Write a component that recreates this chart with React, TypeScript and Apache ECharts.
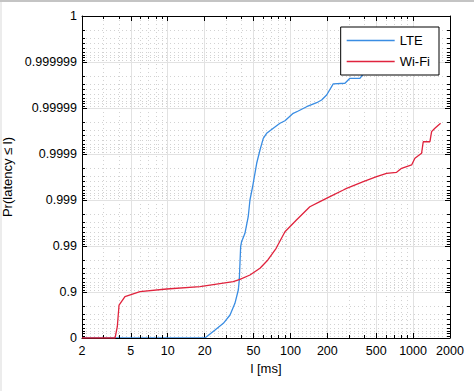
import React, { useEffect, useRef } from "react";
import * as echarts from "echarts";

// Tick labels
const xTicks = [2, 5, 10, 20, 50, 100, 200, 500, 1000, 2000];
const xMinorTicks = [3, 4, 6, 7, 8, 9, 30, 40, 60, 70, 80, 90, 300, 400, 600, 700, 800, 900];
const yTickLabels = ["0", "0.9", "0.99", "0.999", "0.9999", "0.99999", "0.999999", "1"];
const yMinorFractions = [0.1, 0.2, 0.3, 0.4, 0.5, 0.6, 0.7, 0.8];

// LTE: latency (ms) and Pr(latency <= l)
const lteLatency = [2, 20.1, 24.3, 28.4, 32.2, 35.3, 37.6, 38.3, 38.8, 39.3, 40.0, 42.6, 45.3, 46.8, 49.2, 53.1, 56.5, 60.1, 64.0, 72.5, 82.2, 90.3, 105.4, 115.9, 135.6, 163.7, 179.7, 197.4, 223.4, 278.3, 305.6, 368.8, 405, 459, 488.6, 557, 647];
const lteCdf = [0, 0, 0.33, 0.52, 0.684, 0.824, 0.9094, 0.9452, 0.97623, 0.98965, 0.99193, 0.9947, 0.997693, 0.999, 0.999486, 0.999841, 0.9999182, 0.9999544, 0.9999645, 0.9999724, 0.9999785, 0.9999811, 0.99998697, 0.99998839, 0.99999062, 0.99999233, 0.9999933, 0.99999479, 0.999997, 0.9999971, 0.99999774, 0.99999774, 0.99999837, 0.99999845, 0.99999874, 0.99999918, 0.99999957];

// Wi-Fi
const wifiLatency = [2, 3.72, 3.88, 4.01, 4.48, 5.94, 9.8, 18.3, 34.2, 38.8, 46.8, 56.5, 65.5, 76.5, 90.3, 112, 144, 174, 210, 270, 287, 393, 504, 608, 734, 806, 973, 1035, 1173, 1210, 1372, 1416, 1506, 1676];
const wifiCdf = [0, 0, 0.4325, 0.808, 0.8735, 0.9016, 0.9139, 0.9233, 0.9403, 0.947, 0.9573, 0.9695, 0.9799, 0.98878, 0.99511, 0.99728, 0.9986, 0.998911, 0.999153, 0.999393, 0.999443, 0.9996, 0.999689, 0.999737, 0.99975, 0.999795, 0.999827, 0.999876, 0.9999034, 0.9999459, 0.9999459, 0.9999673, 0.9999724, 0.9999785];

const lx = (v: number) => Math.log10(v);
const ty = (p: number) => (p >= 1 ? 7 : -Math.log10(1 - p));

const FONT = "'Liberation Sans', Arial, Helvetica, sans-serif";

export default function App() {
  const ref = useRef<HTMLDivElement>(null);
  useEffect(() => {
    if (!ref.current) return;
    const chart = echarts.init(ref.current, null, { renderer: "svg" });
    const xMin = lx(xTicks[0]);
    const xMax = lx(xTicks[xTicks.length - 1]);
    const xMajor = xTicks.map(lx);
    const xMinor = xMinorTicks.map(lx);
    const yMajor = yTickLabels.map((_, i) => i);
    const yMinor: number[] = [];
    for (let k = 0; k < 7; k++) {
      yMinorFractions.forEach((f) => yMinor.push(k - Math.log10(1 - f)));
    }
    const majorSplit = () => ({ show: true, lineStyle: { color: "#e2e2e2", width: 1, type: "solid" } });
    const minorSplit = () => ({ show: true, lineStyle: { color: "#d2d2d2", width: 1, type: [1, 3] } });
    const tick = (len: number, vals: number[], show = true) => ({
      show,
      inside: true,
      length: len,
      customValues: vals,
      lineStyle: { color: "#000", width: 1 },
    });
    const baseX = () => ({ type: "value", min: xMin, max: xMax });
    const baseY = () => ({ type: "value", min: 0, max: 7 });
    const frame = (base: any, position: string, ticks: any) => ({
      ...base,
      position,
      axisLine: { show: true, onZero: false, lineStyle: { color: "#000", width: 1 } },
      axisTick: ticks,
      axisLabel: { show: false },
      splitLine: { show: false },
      z: 8,
    });
    const plain = (base: any, position: string, ticks: any, split: any, z: number) => ({
      ...base,
      position,
      axisLine: { show: false, onZero: false },
      axisTick: ticks,
      axisLabel: { show: false },
      splitLine: split,
      z,
    });

    chart.setOption({
      animation: false,
      backgroundColor: "transparent",
      textStyle: { fontFamily: FONT },
      grid: { left: 82, right: 24, top: 16, bottom: 53, containLabel: false, outerBoundsMode: "none" },
      xAxis: [
        frame(baseX(), "bottom", tick(3, xMinor)),
        frame(baseX(), "top", tick(3, xMinor)),
        {
          ...baseX(),
          position: "bottom",
          name: "l [ms]",
          nameLocation: "middle",
          nameGap: 22,
          nameTextStyle: { fontSize: 13, color: "#000", fontFamily: FONT },
          axisLine: { show: false, onZero: false },
          axisTick: tick(5, xMajor),
          axisLabel: {
            show: true,
            customValues: xMajor,
            margin: 6,
            fontSize: 12.5,
            color: "#000",
            fontFamily: FONT,
            formatter: (v: number) => String(Math.round(Math.pow(10, v))),
          },
          splitLine: majorSplit(),
          z: 1,
        },
        plain(baseX(), "bottom", tick(3, xMinor, false), minorSplit(), 0),
        plain(baseX(), "top", tick(5, xMajor), { show: false }, 1),
      ],
      yAxis: [
        frame(baseY(), "left", tick(3, yMinor)),
        frame(baseY(), "right", tick(3, yMinor)),
        {
          ...baseY(),
          position: "left",
          name: "Pr(latency \u2264 l)",
          nameLocation: "middle",
          nameGap: 55,
          nameTextStyle: { fontSize: 13, color: "#000", fontFamily: FONT },
          axisLine: { show: false, onZero: false },
          axisTick: tick(5, yMajor),
          axisLabel: {
            show: true,
            customValues: yMajor,
            margin: 5,
            fontSize: 12.5,
            color: "#000",
            fontFamily: FONT,
            formatter: (v: number) => yTickLabels[Math.round(v)],
          },
          splitLine: majorSplit(),
          z: 1,
        },
        plain(baseY(), "left", tick(3, yMinor, false), minorSplit(), 0),
        plain(baseY(), "right", tick(5, yMajor), { show: false }, 1),
      ],
      legend: {
        show: true,
        orient: "vertical",
        right: 35,
        top: 27,
        backgroundColor: "#fff",
        borderColor: "#000",
        borderWidth: 1,
        padding: [7, 9, 7, 6],
        itemWidth: 48,
        itemHeight: 1.5,
        itemGap: 8,
        icon: "rect",
        textStyle: { fontSize: 13, color: "#000", fontFamily: FONT },
        data: ["LTE", "Wi-Fi"],
        z: 10,
      },
      series: [
        {
          name: "LTE",
          type: "line",
          xAxisIndex: 2,
          yAxisIndex: 2,
          symbol: "none",
          lineStyle: { color: "#3a8de3", width: 1.3 },
          itemStyle: { color: "#3a8de3" },
          data: lteLatency.map((l, i) => [lx(l), ty(lteCdf[i])]),
          z: 4,
        },
        {
          name: "Wi-Fi",
          type: "line",
          xAxisIndex: 2,
          yAxisIndex: 2,
          symbol: "none",
          lineStyle: { color: "#e0233d", width: 1.3 },
          itemStyle: { color: "#e0233d" },
          data: wifiLatency.map((l, i) => [lx(l), ty(wifiCdf[i])]),
          z: 9,
        },
      ],
    });
    return () => chart.dispose();
  }, []);

  return (
    <div style={{ position: "fixed", left: 0, top: 0, width: 474, height: 391, background: "#fff" }}>
      <div ref={ref} style={{ position: "absolute", left: 0, top: 0, width: 474, height: 391 }} />
      <div style={{ position: "absolute", left: 0, top: 0, width: 474, height: 2, background: "#c4c4c4", pointerEvents: "none" }} />
      <div style={{ position: "absolute", left: 0, top: 2, width: 2, height: 389, background: "#ececec", pointerEvents: "none" }} />
    </div>
  );
}
